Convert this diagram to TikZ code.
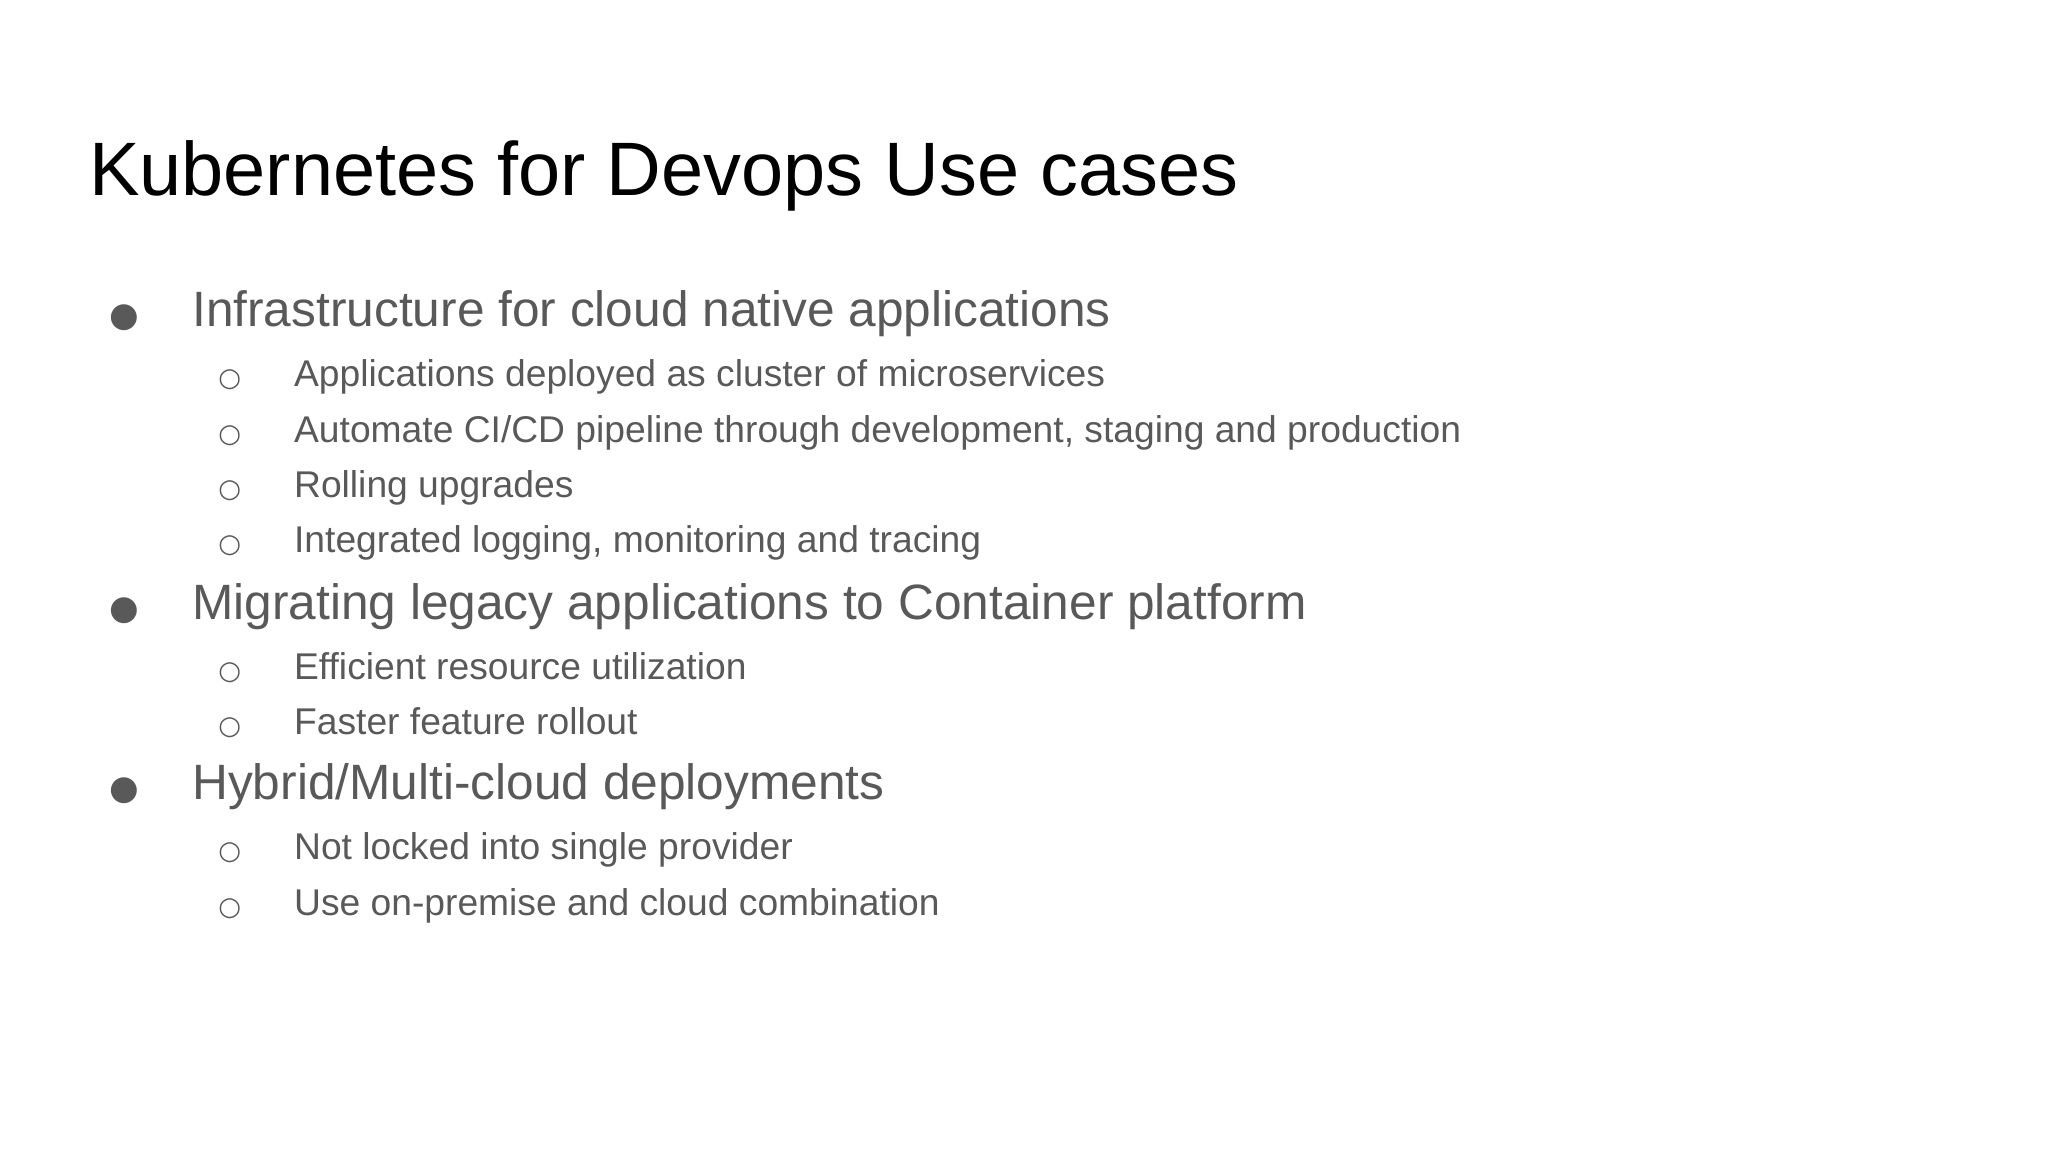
\documentclass[tikz,border=0pt]{standalone}
\usepackage{fontspec}
\setmainfont{Liberation Sans}
\newfontfamily\symfont{DejaVu Sans}
\definecolor{txt}{HTML}{595959}
\begin{document}
\begin{tikzpicture}[x=1pt,y=-1pt,
  title/.style={anchor=base west,inner sep=0,font=\fontsize{58}{60}\selectfont,text=black},
  lone/.style={anchor=base west,inner sep=0,font=\fontsize{38}{40}\selectfont,text=txt},
  ltwo/.style={anchor=base west,inner sep=0,font=\fontsize{28.5}{30}\selectfont,text=txt},
  bone/.style={anchor=base,inner sep=0,font=\symfont\fontsize{26}{28}\selectfont,text=txt},
  btwo/.style={anchor=base,inner sep=0,font=\symfont\fontsize{20}{22}\selectfont,text=txt}]
\useasboundingbox (0,0) rectangle (1568,882);
\node[title] (t) at (68,150) {Kubernetes for Devops Use cases};
\node[bone] (b1) at (95,250) {●};
\node[lone] (l1) at (147,250) {Infrastructure for cloud native applications};
\node[btwo] (c1) at (176,296) {○};
\node[ltwo] (s1) at (225,296) {Applications deployed as cluster of microservices};
\node[btwo] (c2) at (176,339) {○};
\node[ltwo] (s2) at (225,339) {Automate CI/CD pipeline through development, staging and production};
\node[btwo] (c3) at (176,381) {○};
\node[ltwo] (s3) at (225,381) {Rolling upgrades};
\node[btwo] (c4) at (176,423) {○};
\node[ltwo] (s4) at (225,423) {Integrated logging, monitoring and tracing};
\node[bone] (b2) at (95,474) {●};
\node[lone] (l2) at (147,474) {Migrating legacy applications to Container platform};
\node[btwo] (c5) at (176,520) {○};
\node[ltwo] (s5) at (225,520) {Efficient resource utilization};
\node[btwo] (c6) at (176,562) {○};
\node[ltwo] (s6) at (225,562) {Faster feature rollout};
\node[bone] (b3) at (95,612) {●};
\node[lone] (l3) at (147,612) {Hybrid/Multi-cloud deployments};
\node[btwo] (c7) at (176,658) {○};
\node[ltwo] (s7) at (225,658) {Not locked into single provider};
\node[btwo] (c8) at (176,701) {○};
\node[ltwo] (s8) at (225,701) {Use on-premise and cloud combination};
\end{tikzpicture}
\end{document}
